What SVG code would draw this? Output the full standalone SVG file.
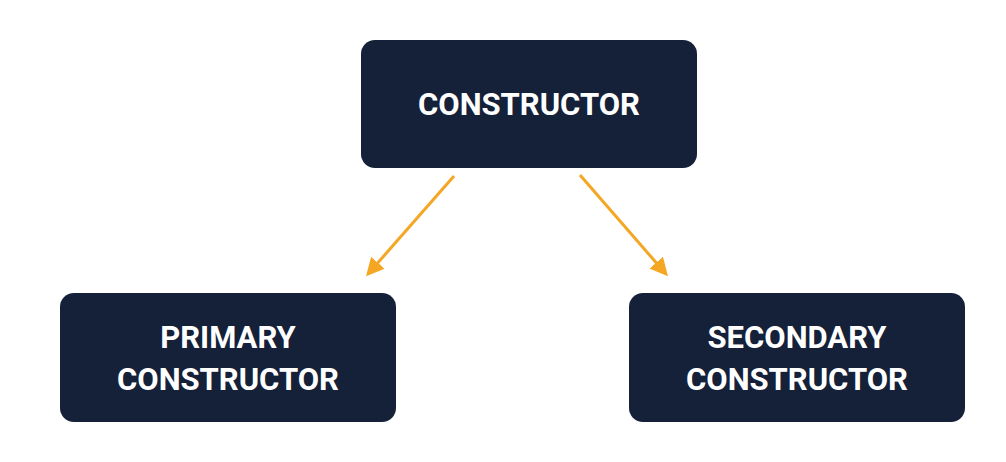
<svg xmlns="http://www.w3.org/2000/svg" width="1006" height="462" viewBox="0 0 1006 462">
<style>
.box{fill:#152039}
.t{fill:#fff;font-family:Roboto,"Liberation Sans",sans-serif;font-weight:bold;font-size:31px;text-anchor:middle}
.c{stroke:#F5A623;stroke-width:3;fill:none}
</style>
<defs><marker id="a" markerWidth="6" markerHeight="6" refX="5" refY="3" orient="auto" markerUnits="strokeWidth"><path d="M0,0L6,3L0,6z" fill="#F5A623"/></marker></defs>
<rect width="1006" height="462" fill="#fff"/>
<g id="n1"><rect class="box" x="361" y="40" width="336" height="128" rx="14"/><text class="t" x="529" y="115">CONSTRUCTOR</text></g>
<g id="n2"><rect class="box" x="60" y="293" width="336" height="129" rx="14"/><text class="t" x="228" y="348">PRIMARY</text><text class="t" x="228" y="390">CONSTRUCTOR</text></g>
<g id="n3"><rect class="box" x="629" y="293" width="336" height="129" rx="14"/><text class="t" x="797" y="348">SECONDARY</text><text class="t" x="797" y="390">CONSTRUCTOR</text></g>
<g id="edges"><path class="c" d="M454,176L368,274" marker-end="url(#a)"/><path class="c" d="M580,175L666,274" marker-end="url(#a)"/></g>
</svg>
